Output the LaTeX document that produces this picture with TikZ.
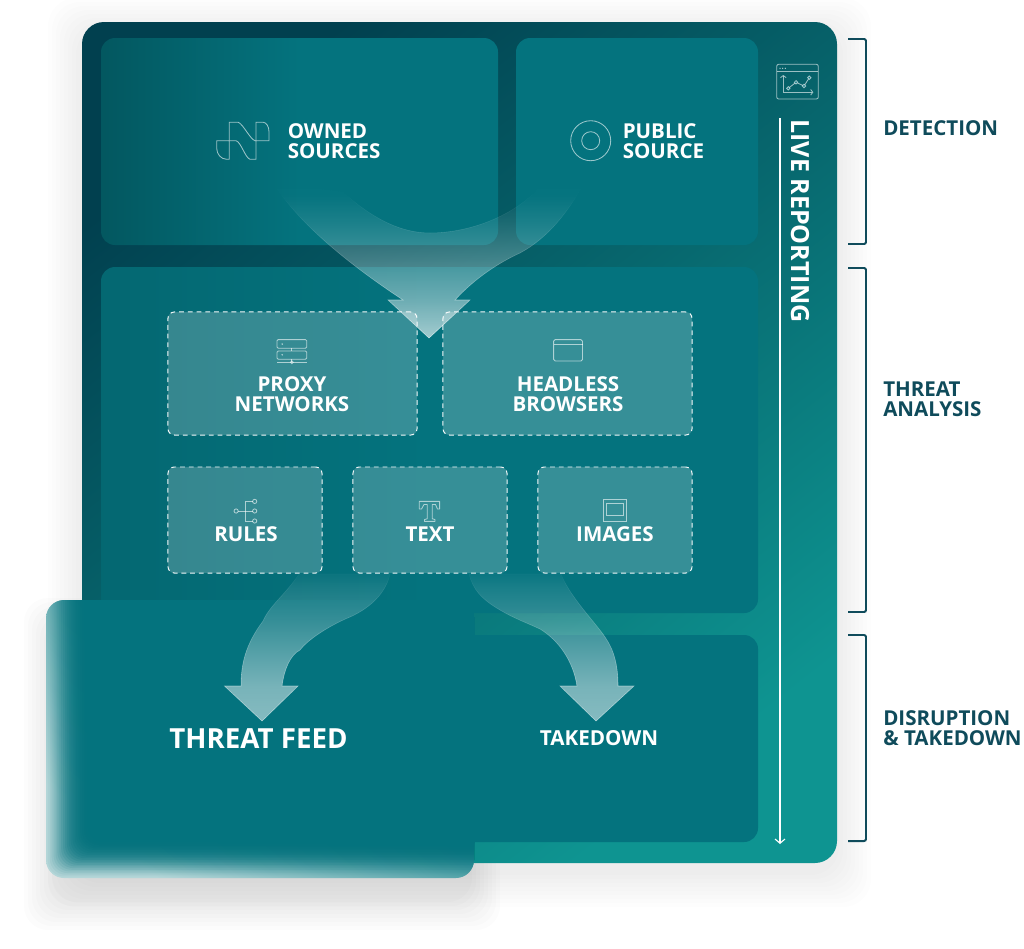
\documentclass[tikz,border=0pt]{standalone}
\usepackage{fontspec}
\setmainfont{Open Sans}
\usetikzlibrary{arrows.meta,fadings}
\definecolor{inkblue}{HTML}{0F4B5B}
\definecolor{panelteal}{HTML}{04737E}
\definecolor{maindark}{HTML}{01404F}
\definecolor{mainmid}{HTML}{07757C}
\definecolor{mainlight}{HTML}{0E9491}
\definecolor{cardlight}{HTML}{B4D6D8}
\definecolor{cardedge}{HTML}{0F8088}
\pgfdeclareverticalshading{mergeshade}{100bp}{color(0bp)=(white!64!black);color(25bp)=(white!64!black);color(37bp)=(white!42!black);color(50bp)=(white!24!black);color(62bp)=(white!9!black);color(70bp)=(white!1!black);color(75bp)=(black);color(100bp)=(black)}
\pgfdeclareverticalshading{flowshade}{100bp}{color(0bp)=(white!52!black);color(25bp)=(white!52!black);color(37bp)=(white!46!black);color(49bp)=(white!32!black);color(59bp)=(white!20!black);color(70bp)=(white!9!black);color(75bp)=(white!3!black);color(100bp)=(white!3!black)}
\tikzfading[name=mergefade,shading=mergeshade]
\tikzfading[name=flowfade,shading=flowshade]
\tikzset{
	panel/.style={rounded corners=0.35cm,fill=panelteal},
	dashbox/.style={draw=white,fill=white,fill opacity=0.2,draw opacity=0.95,dashed,dash pattern=on 3.4pt off 2.8pt,line width=0.7pt,rounded corners=0.16cm,inner sep=0pt},
	icon/.style={draw=white,draw opacity=0.6,line width=0.6pt},
	lbl/.style={text=white,font=\fontsize{14.6}{14.2}\selectfont\bfseries,align=center,inner sep=0pt},
	sidelbl/.style={text=inkblue,font=\fontsize{14.6}{14.2}\selectfont\bfseries,align=left,anchor=west,inner sep=0pt},
	bracket/.style={draw=inkblue,line width=1.4pt,rounded corners=0.05cm},
	flow/.style={fill=white,draw=white,line width=0.4pt,path fading=flowfade},
}
\begin{document}
\begin{tikzpicture}[x=0.025cm,y=-0.025cm]
	\useasboundingbox (0,0) rectangle (1024,948);
	% soft shadows
	\foreach \g in {34,30,...,2}
		\fill[black,opacity=0.006,rounded corners=0.7cm] (82-\g,22-\g+10) rectangle (837+\g,863+\g+10);
	\foreach \g in {32,28,...,2}
		\fill[black,opacity=0.011,rounded corners=0.6cm] (46-\g+10,600-\g+30) rectangle (474+\g-6,878+\g+20);
	% main panel
	\shade[rounded corners=0.55cm,left color=maindark,middle color=mainmid,right color=mainlight,shading angle=38] (82,22) rectangle (837,863);
	% panels
	\shade[rounded corners=0.35cm,left color=panelteal!76!black,right color=panelteal,middle color=panelteal] (101,38) rectangle (498,245);
	\fill[panel] (516,38) rectangle (758,245);
	\shade[rounded corners=0.35cm,left color=panelteal!90!black,right color=panelteal,middle color=panelteal] (101,267) rectangle (758,613);
	\fill[panel] (300,635) rectangle (758,842);
	% dashed boxes
	\node (proxy) [dashbox,minimum width=6.225cm,minimum height=3.075cm] at (292.5,373.5) {};
	\node (headless) [dashbox,minimum width=6.225cm,minimum height=3.075cm] at (567.5,373.5) {};
	\node (rules) [dashbox,minimum width=3.85cm,minimum height=2.65cm] at (245,520) {};
	\node (textbox) [dashbox,minimum width=3.85cm,minimum height=2.65cm] at (430,520) {};
	\node (images) [dashbox,minimum width=3.85cm,minimum height=2.65cm] at (615,520) {};
	% threat feed card
	\begin{scope}
		\clip[rounded corners=0.45cm] (46,600) rectangle (474,878);
		\shade[left color=cardlight,right color=cardedge,shading angle=140] (46,600) rectangle (474,878);
		\foreach \i [evaluate=\i as \op using 0.04+0.012*\i] in {1,...,24}
			\fill[panelteal,opacity=\op,rounded corners=0.4cm] (46+1.9*\i,560) rectangle (520,878-1.65*\i);
	\end{scope}
	% flows
	\path[fill=white,draw=white,line width=0.4pt,path fading=mergefade] (273,183) .. controls (300,225) and (350,265) .. (403,300) -- (388,300) -- (429,338) -- (470,300) -- (455,300) .. controls (475,278) and (500,262) .. (520,253) .. controls (548,238) and (568,212) .. (583,185) -- (545,180) .. controls (520,215) and (470,233) .. (430,233) .. controls (395,233) and (365,212) .. (343,192) -- cycle;
	\path[flow] (299,574) .. controls (285,595) and (270,605) .. (263,621) .. controls (245,645) and (241,665) .. (241,686) -- (224.5,686) -- (262,721) -- (298,686) -- (282,686) .. controls (284,670) and (290,655) .. (300,650) .. controls (310,637) and (335,623) .. (350,617) .. controls (372,607) and (386,592) .. (390,574) -- cycle;
	\path[flow] (469,574) .. controls (473,590) and (482,598) .. (492,605) .. controls (510,617) and (525,622) .. (540,629) .. controls (558,640) and (573,660) .. (577,686) -- (560,686) -- (596,721) -- (634,686) -- (618,686) .. controls (618,665) and (614,650) .. (605,637) .. controls (595,622) and (570,597) .. (561,574) -- cycle;
	% labels
	\node (owned) [lbl,align=left,anchor=west] at (287.5,141) {OWNED\\SOURCES};
	\node (public) [lbl,align=left,anchor=west] at (622.5,141) {PUBLIC\\SOURCE};
	\node (proxylbl) [lbl] at (292,394) {PROXY\\NETWORKS};
	\node (headlesslbl) [lbl] at (568,394) {HEADLESS\\BROWSERS};
	\node (ruleslbl) [lbl] at (246,534) {RULES};
	\node (textlbl) [lbl] at (430,534) {TEXT};
	\node (imageslbl) [lbl] at (615,534) {IMAGES};
	\node (feed) [lbl,font=\fontsize{19.7}{19.7}\selectfont\bfseries] at (258.5,739) {THREAT FEED};
	\node (takedown) [lbl,font=\fontsize{14.7}{14.7}\selectfont\bfseries] at (599,738.5) {TAKEDOWN};
	\node (live) [lbl,rotate=-90,font=\fontsize{17.8}{17.8}\selectfont\bfseries] at (800,221) {LIVE REPORTING};
	\node (detection) [sidelbl] at (883,128) {DETECTION};
	\node (analysis) [sidelbl] at (883,399) {THREAT\\ANALYSIS};
	\node (disruption) [sidelbl] at (883,728) {DISRUPTION\\\& TAKEDOWN};
	% live line
	\coordinate (livetop) at (780,118);
	\coordinate (liveend) at (780,844);
	\draw[white,line width=0.8pt,-{Straight Barb[length=3pt,width=7pt]}] (livetop) -- (liveend);
	% brackets
	\draw[bracket] (848,39) -- (866,39) -- (866,244) -- (848,244);
	\draw[bracket] (848,268) -- (866,268) -- (866,612) -- (848,612);
	\draw[bracket] (848,635) -- (866,635) -- (866,841) -- (848,841);
	% owned icon
	\draw[icon] (229.3,159.3) -- (229.3,122.3) -- (238.3,122.3) .. controls (243,124) and (250,139) .. (255,140.7) -- (269,140.7) -- (269,131.7) .. controls (269,126) and (266,122.3) .. (263.3,122.3) -- (256,122.3) -- (256,159.3) -- (250,159.3) .. controls (245,157.5) and (241,142) .. (236,140.7) -- (216.7,140.7) -- (216.7,148.3) .. controls (216.7,154) and (221,159.3) .. (226.7,159.3) -- cycle;
	% public icon
	\draw[icon] (590.7,140.7) circle (20);
	\draw[icon] (590.7,140.7) circle (9);
	% live icon
	\draw[icon,rounded corners=0.05cm] (776.7,64.3) rectangle (818.3,99);
	\draw[icon] (776.7,71.7) -- (818.3,71.7);
	\foreach \x in {780,782.7,785.3}
		\fill[white,opacity=0.7] (\x,68.3) circle (0.7);
	\draw[icon,{Straight Barb[length=1.5pt,width=4pt]}-{Straight Barb[length=1.5pt,width=4pt]}] (783.3,75) -- (783.3,92.3) -- (813.3,92.3);
	\draw[icon] (788.3,88.3) -- (796,82.3) -- (804,86) -- (809.3,77.7);
	\foreach \x/\y in {788.3/88.3,796/82.3,804/86,809.3/77.7}
		\draw[icon,fill=panelteal] (\x,\y) circle (1.7);
	% proxy icon
	\draw[icon,rounded corners=0.03cm] (277,339.6) rectangle (306.7,348.2);
	\draw[icon,rounded corners=0.03cm] (277,351) rectangle (306.7,359.2);
	\draw[icon] (291.9,348.2) -- (291.9,351);
	\draw[icon] (291.9,359.2) -- (291.9,362.3);
	\draw[icon] (277,362.3) -- (306.7,362.3);
	\draw[icon] (291.9,362.3) circle (1.4);
	\fill[white,opacity=0.7] (282.2,344) circle (0.8) (282.2,354.8) circle (0.8);
	% browser icon
	\draw[icon,rounded corners=0.04cm] (553.6,339.6) rectangle (582.5,361);
	\draw[icon] (553.6,344) -- (582.5,344);
	% rules icon
	\draw[icon] (238.1,511) -- (252.7,511);
	\draw[icon] (252.7,501.4) -- (245,501.4) -- (245,521) -- (252.7,521);
	\foreach \x/\y in {236.1/511,254.7/501.4,254.7/511,254.7/521}
		\draw[icon] (\x,\y) circle (2.1);
	% text icon
	\draw[icon,line join=round] (419.3,501.4) -- (439.6,501.4) -- (439.6,509) -- (437.5,509) -- (435.5,504.5) -- (432.3,504.5) -- (432.3,518.8) -- (435,519.5) -- (435,521.4) -- (424.5,521.4) -- (424.5,519.5) -- (427.2,518.8) -- (427.2,504.5) -- (424,504.5) -- (421.5,509) -- (419.3,509) -- cycle;
	% images icon
	\draw[icon] (603.5,499.7) rectangle (626.6,521.4);
	\draw[icon] (606.6,503.2) rectangle (623.2,515.2);
\end{tikzpicture}
\end{document}
